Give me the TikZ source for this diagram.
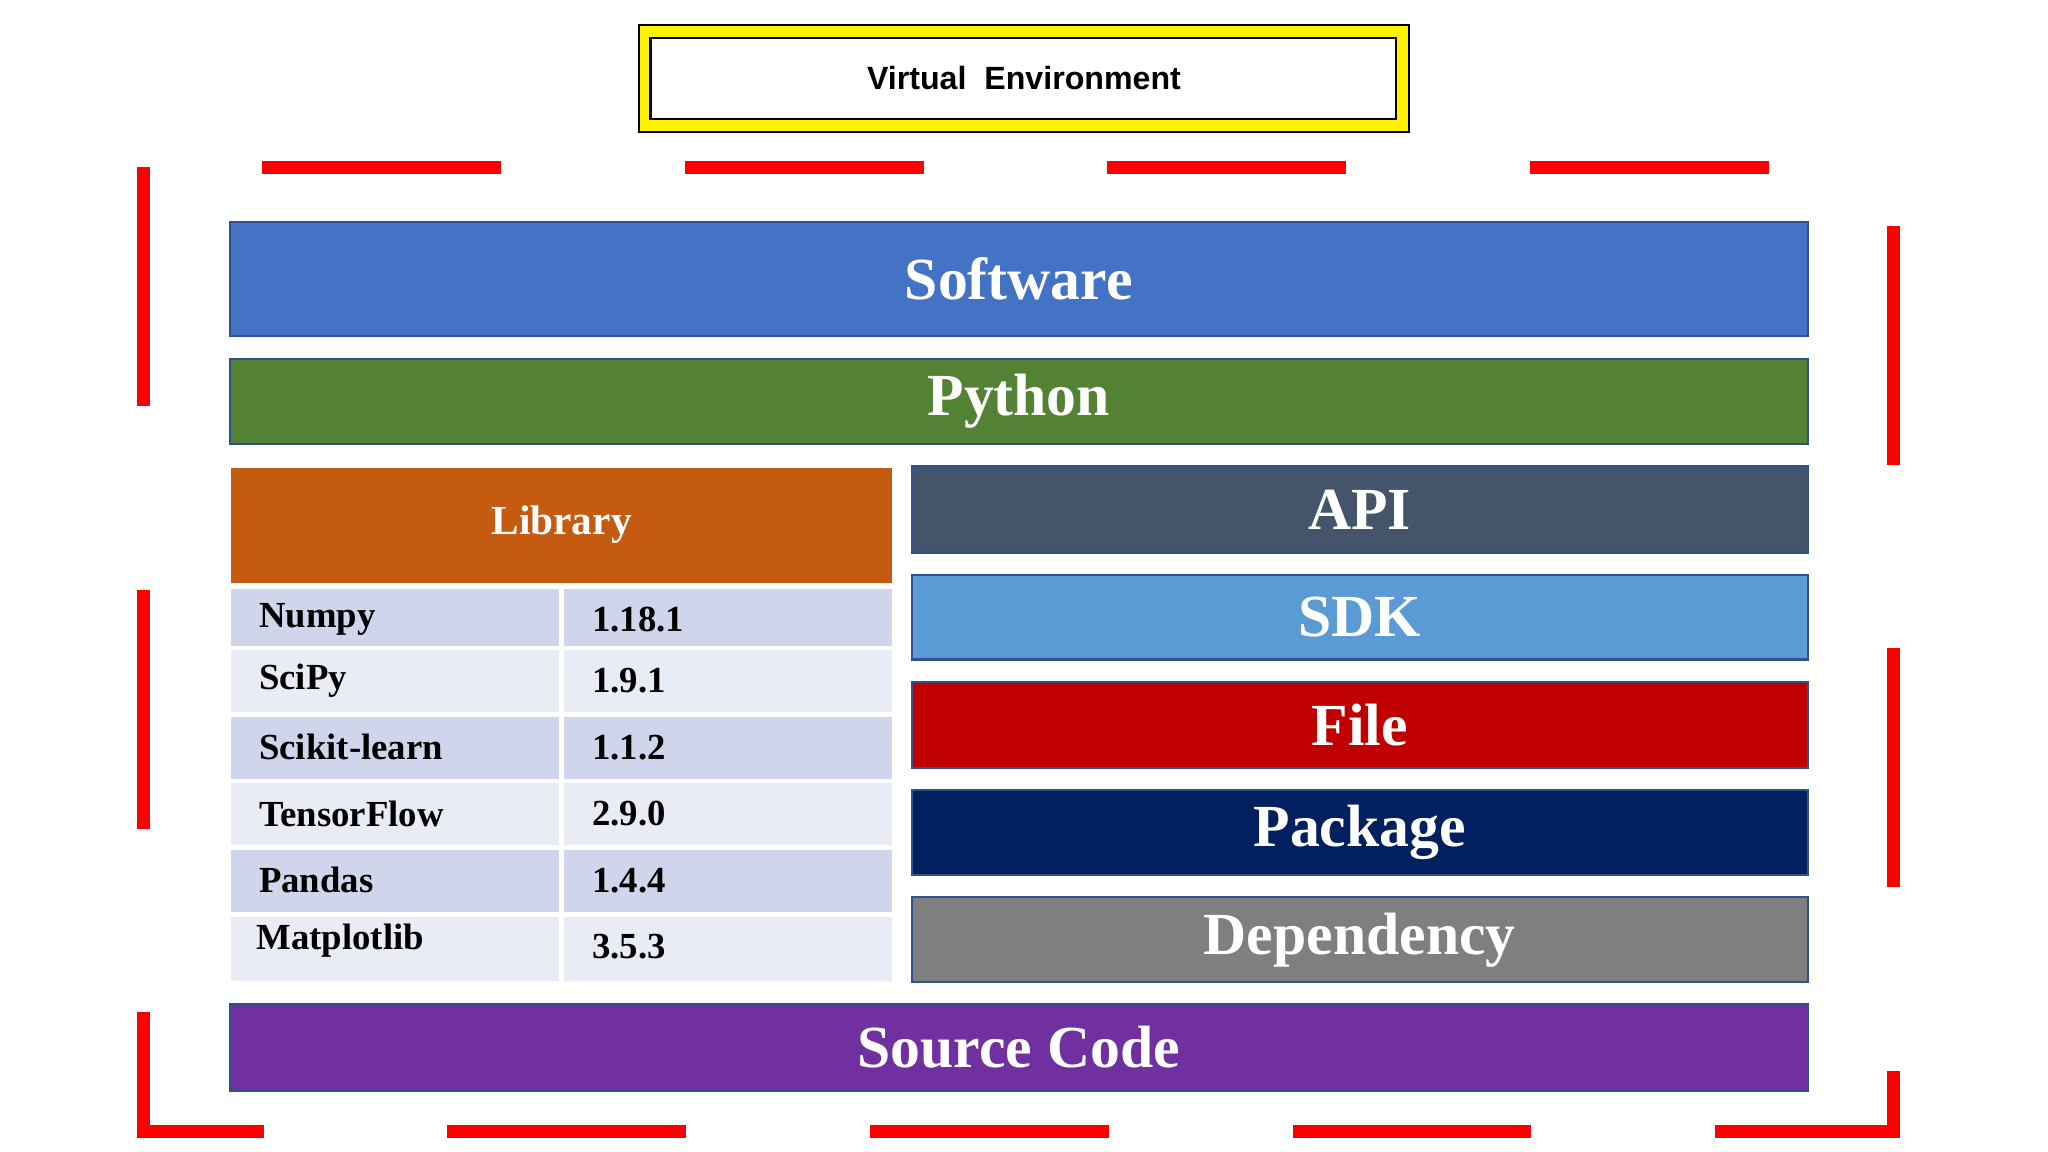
\documentclass[tikz,border=0pt]{standalone}
\usepackage{fontspec}
\setmainfont{Liberation Serif}
\newfontfamily\sansf{Liberation Sans}
\definecolor{cblue}{HTML}{4472C4}
\definecolor{cgreen}{HTML}{548235}
\definecolor{corange}{HTML}{C55A11}
\definecolor{capi}{HTML}{44546A}
\definecolor{csdk}{HTML}{5B9BD5}
\definecolor{cfile}{HTML}{C00000}
\definecolor{cpkg}{HTML}{002060}
\definecolor{cdep}{HTML}{7F7F7F}
\definecolor{csrc}{HTML}{7030A0}
\definecolor{rowa}{HTML}{CFD5EA}
\definecolor{rowb}{HTML}{E9EBF5}
\definecolor{bord}{HTML}{2F528F}
\begin{document}
\begin{tikzpicture}[x=0.01cm,y=-0.01cm,
  bar/.style={draw=bord,line width=0.5pt},
  big/.style={text=white,font=\bfseries\fontsize{13}{13}\selectfont},
  cell/.style={anchor=west,font=\bfseries\fontsize{8}{8}\selectfont,text=black}]
\useasboundingbox (0,0) rectangle (1568,882);
\fill[white] (0,0) rectangle (1568,882);
% virtual environment
\draw[black,line width=0.5pt,fill=yellow] (489,19) rectangle (1079,101);
\draw[black,line width=0.5pt,fill=white] (498,29) rectangle (1069,91);
\node[font=\sansf\bfseries\fontsize{7}{7}\selectfont] (ve) at (784,60) {Virtual\ \ Environment};
% red dashed frame
\draw[red,line width=2.8pt,dash pattern=on 52 off 40] (110,128) rectangle (1450,866);
% bars
\draw[bar,fill=cblue] (176,170) rectangle (1384,257) node[big,midway] (sw) {Software};
\draw[bar,fill=cgreen] (176,275) rectangle (1384,340) node[big,midway] (py) {Python};
\fill[corange] (177,358) rectangle (683,446) node[midway,text=white,font=\bfseries\fontsize{9}{9}\selectfont] (lib) {Library};
\draw[bar,fill=capi] (698,357) rectangle (1384,423) node[big,midway] (api) {API};
\draw[bar,fill=csdk] (698,440) rectangle (1384,505) node[big,midway] (sdk) {SDK};
\draw[bar,fill=cfile] (698,522) rectangle (1384,588) node[big,midway] (file) {File};
\draw[bar,fill=cpkg] (698,605) rectangle (1384,670) node[big,midway] (pkg) {Package};
\draw[bar,fill=cdep] (698,687) rectangle (1384,752) node[big,midway] (dep) {Dependency};
\draw[bar,fill=csrc] (176,769) rectangle (1384,835) node[big,midway] (src) {Source Code};
% table
\fill[rowa] (177,451) rectangle (683,496);
\fill[rowb] (177,496) rectangle (683,547);
\fill[rowa] (177,547) rectangle (683,598);
\fill[rowb] (177,598) rectangle (683,649);
\fill[rowa] (177,649) rectangle (683,700);
\fill[rowb] (177,700) rectangle (683,751);
\foreach \y in {496,547,598,649,700} \draw[white,line width=1pt] (177,\y) -- (683,\y);
\draw[white,line width=1.2pt] (430,451) -- (430,751);
\node[cell] (n1) at (186,474) {Numpy};   \node[cell] (v1) at (441,474) {1.18.1};
\node[cell] (n2) at (186,521) {SciPy};   \node[cell] (v2) at (441,521) {1.9.1};
\node[cell] (n3) at (186,572) {Scikit-learn}; \node[cell] (v3) at (441,572) {1.1.2};
\node[cell] (n4) at (186,623) {TensorFlow}; \node[cell] (v4) at (441,623) {2.9.0};
\node[cell] (n5) at (186,674) {Pandas};  \node[cell] (v5) at (441,674) {1.4.4};
\node[cell] (n6) at (184,720) {Matplotlib}; \node[cell] (v6) at (441,725) {3.5.3};
\end{tikzpicture}
\end{document}
